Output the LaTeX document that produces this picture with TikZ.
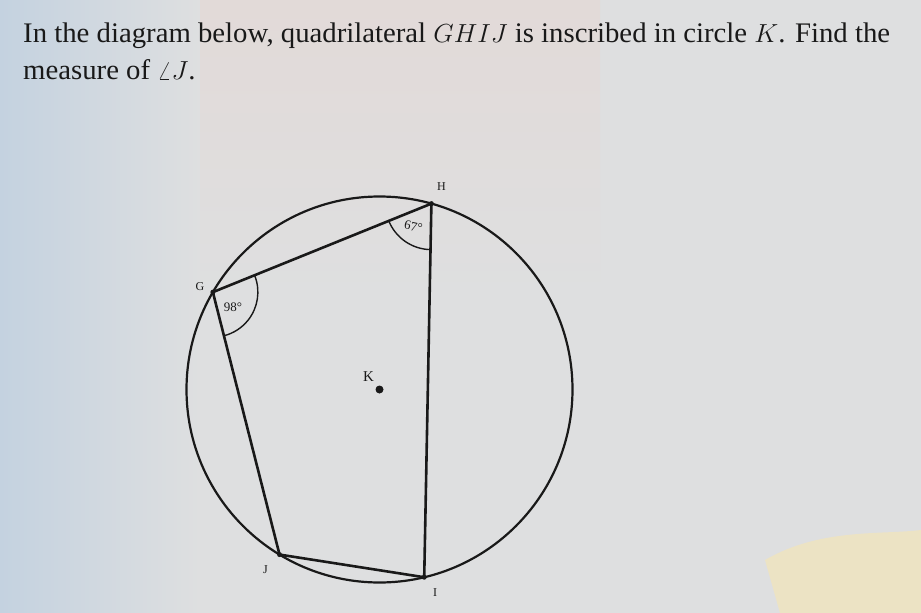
\documentclass[tikz,border=0pt]{standalone}
\usepackage{fontspec}
\setmainfont{Liberation Serif}
\usetikzlibrary{calc}
\definecolor{bggray}{RGB}{222,223,224}
\definecolor{bgblue}{RGB}{196,210,224}
\definecolor{bgpink}{RGB}{226,218,216}
\definecolor{cream}{RGB}{240,228,190}
\definecolor{ink}{RGB}{25,25,25}
\tikzset{
  edge/.style={draw=ink, line width=2.6pt, line cap=round},
  rim/.style={draw=ink, line width=2.2pt},
  vdot/.style={circle, fill=ink, inner sep=0pt, minimum size=5pt},
  cdot/.style={circle, fill=ink, inner sep=0pt, minimum size=8pt},
  vlabel/.style={font=\fontsize{12}{12}\selectfont, text=ink, inner sep=0pt},
  anglearc/.style={draw=ink, line width=1.4pt},
  anglelabel/.style={font=\fontsize{13}{13}\selectfont, text=ink, inner sep=0pt},
  title/.style={font=\fontsize{27}{33}\selectfont, text=ink, anchor=base west, inner sep=0pt, xscale=1.065, yscale=1.05}
}
\begin{document}
\begin{tikzpicture}[x=1pt,y=-1pt]
\useasboundingbox (0,0) rectangle (921,613);
% background
\fill[bggray] (0,0) rectangle (921,613);
\shade[left color=bgblue, right color=bggray] (0,0) rectangle (200,613);
\shade[top color=bgpink, bottom color=bggray] (200,0) rectangle (600,300);
\fill[cream, opacity=0.8] (765,560) .. controls (820,528) and (880,535) .. (921,530) -- (921,613) -- (780,613) -- cycle;
% title
\node[title] (t1) at (23,42) {In the diagram below, quadrilateral $GHIJ$ is inscribed in circle $K$. Find the};
\node[title] (t2) at (23,79) {measure of $\angle J$.};
% circle
\coordinate (K) at (379.5,389.5);
\draw[rim] (K) circle (193);
\coordinate (H) at ($(K)+(-74.4:193)$);
\coordinate (G) at ($(K)+(-149.7:193)$);
\coordinate (J) at ($(K)+(-238.8:193)$);
\coordinate (I) at ($(K)+(-283.4:193)$);
% quadrilateral
\draw[edge] (G) -- (H) -- (I) -- (J) -- cycle;
% angle arcs
\draw[anglearc] ($(H)+(-201.3:46)$) arc[start angle=-201.3, end angle=-268.9, radius=46];
\draw[anglearc] ($(G)+(-21.3:45)$) arc[start angle=-21.3, end angle=75, radius=45];
\node[anglelabel, rotate=-12] (a67) at ($(H)+(-18,23)$) {67°};
\node[anglelabel] (a98) at ($(G)+(20,15)$) {98°};
% vertices
\node[vdot] (vG) at (G) {};
\node[vdot] (vH) at (H) {};
\node[vdot] (vI) at (I) {};
\node[vdot] (vJ) at (J) {};
\node[cdot] (vK) at (K) {};
% labels
\node[vlabel] (lH) at ($(H)+(10,-17)$) {H};
\node[vlabel] (lG) at ($(G)+(-13,-6)$) {G};
\node[vlabel] (lK) at ($(K)+(-11,-13)$) {\fontsize{15}{15}\selectfont K};
\node[vlabel] (lJ) at ($(J)+(-14,15)$) {J};
\node[vlabel] (lI) at ($(I)+(11,15)$) {I};
\end{tikzpicture}
\end{document}
